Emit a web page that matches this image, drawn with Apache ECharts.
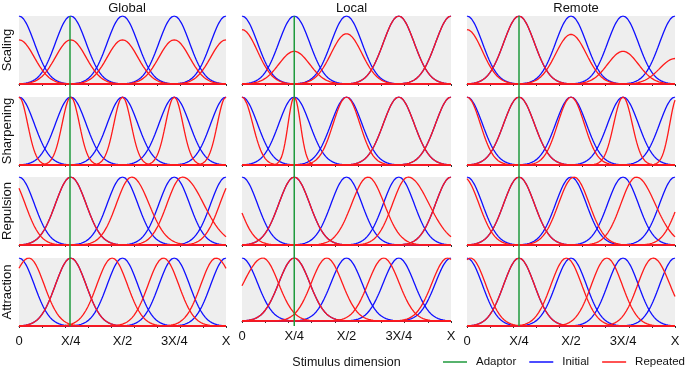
<!DOCTYPE html>
<html>
<head>
<meta charset="utf-8">
<script src="https://cdn.jsdelivr.net/npm/echarts@6/dist/echarts.min.js"></script>
<style>html,body{margin:0;padding:0;background:#fff}#main{width:685px;height:370px}</style>
</head>
<body>
<div id="main"></div>
<script>
var rowNames = ['Scaling', 'Sharpening', 'Repulsion', 'Attraction'];
var colNames = ['Global', 'Local', 'Remote'];
var tickValues = [0, 45, 90, 135, 180];
var tickLabels = ['0', 'X/4', 'X/2', '3X/4', 'X'];
var adaptor = 45;

// initial tuning curves (stimulus in degrees 0..180)
var initCentres = [0, 45, 90, 135, 180];
var initHeight = 1;
var initWidth = 13.3;

// repeated curves: [centre, height, width left, width right]
var scalingGlobal = [[0, 0.65, 13.3, 13.3], [45, 0.65, 13.3, 13.3], [90, 0.65, 13.3, 13.3], [135, 0.65, 13.3, 13.3], [180, 0.65, 13.3, 13.3]];
var scalingLocal = [[0, 0.8, 13.3, 13.3], [45, 0.48, 13.3, 13.3], [90, 0.74, 13.3, 13.3], [135, 1, 13.3, 13.3], [180, 1, 13.3, 13.3]];
var scalingRemote = [[0, 0.8, 13.3, 13.3], [45, 1, 13.3, 13.3], [90, 0.73, 13.3, 13.3], [135, 0.48, 13.3, 13.3], [180, 0.375, 13.3, 13.3]];
var sharpGlobal = [[0, 1, 7.5, 7.5], [45, 1, 7.5, 7.5], [90, 1, 7.5, 7.5], [135, 1, 7.5, 7.5], [180, 1, 7.5, 7.5]];
var sharpLocal = [[0, 1, 9.2, 9.2], [45, 1, 5.3, 5.3], [90, 1, 11.5, 11.5], [135, 1, 13.3, 13.3], [180, 1, 13.3, 13.3]];
var sharpRemote = [[0, 1, 11.5, 11.5], [45, 1, 13.3, 13.3], [90, 1, 11.5, 11.5], [135, 1, 8, 8], [182, 1, 6.5, 6.5]];
var repGlobal = [[-8, 1, 13.3, 13.3], [45, 1, 13.3, 13.3], [98, 1, 13.3, 15], [142, 1, 13.3, 18.5], [188, 1, 13.3, 13.3]];
var repLocal = [[-16.3, 1, 13.3, 13.3], [45, 1, 13.3, 13.3], [108.5, 1, 14, 14], [143, 1, 13.3, 18], [180, 1, 13.3, 13.3]];
var repRemote = [[-3, 1, 13.3, 13.3], [45, 1, 13.3, 13.3], [92.5, 1, 13.3, 13.3], [146.5, 1, 13.3, 16.3], [196, 1, 13.3, 13.3]];
var attGlobal = [[8.6, 1, 15, 13.3], [45, 1, 13.3, 13.3], [81, 1, 13.3, 13.3], [125.6, 1, 13.3, 13.3], [171.4, 1, 13.3, 15]];
var attLocal = [[18, 1, 16.7, 13.3], [45, 1, 13.3, 13.3], [73, 1, 13.3, 13.3], [122, 1, 13.3, 13.3], [177, 1, 13.3, 13.3]];
var attRemote = [[3, 1, 13.3, 13.3], [45, 1, 13.3, 13.3], [86, 1, 13.3, 13.3], [121, 1, 13.3, 13.3], [161, 1, 13.3, 14.7]];

var panels = [
    [scalingGlobal, scalingLocal, scalingRemote],
    [sharpGlobal, sharpLocal, sharpRemote],
    [repGlobal, repLocal, repRemote],
    [attGlobal, attLocal, attRemote]
];

var colLeft = [18, 242, 467];
var colWidth = [208, 209, 208];
var rowTop = [16, 97, 177, 258];
var rowHeight = 68;

var BLUE = '#1010ff';
var RED = '#ff1a1a';
var GREEN = '#1f9a3c';
var FONT = 'Liberation Sans, Arial, Helvetica, sans-serif';

function tuning(c, h, wl, wr) {
    var pts = [];
    for (var x = 0; x <= 180; x += 1) {
        var w = x < c ? wl : wr;
        pts.push([x, h * Math.exp(-(x - c) * (x - c) / (2 * w * w))]);
    }
    return pts;
}

var myChart = echarts.init(document.getElementById('main'), null, {renderer: 'canvas'});

var grid = [], xAxis = [], yAxis = [], series = [], title = [];

for (var r = 0; r < 4; r++) {
    for (var c = 0; c < 3; c++) {
        var gi = r * 3 + c;
        grid.push({
            left: colLeft[c], top: rowTop[r], width: colWidth[c], height: rowHeight,
            show: true, backgroundColor: '#eeeeee', borderWidth: 0
        });
        // tick axis
        xAxis.push({
            gridIndex: gi, type: 'value', position: 'bottom', min: 0, max: 180, interval: 20,
            axisLine: {show: true, lineStyle: {color: '#333', width: 1}},
            axisTick: {show: true, length: 2, lineStyle: {color: '#333'}},
            axisLabel: {show: false}, splitLine: {show: false}
        });
        // label axis
        xAxis.push({
            gridIndex: gi, type: 'value', position: 'bottom', min: 0, max: 180, interval: 45,
            axisLine: {show: false}, axisTick: {show: false},
            axisLabel: {
                show: r === 3, margin: 9, color: '#111', fontSize: 13, fontFamily: FONT,
                formatter: function (v) { return tickLabels[tickValues.indexOf(v)]; }
            },
            splitLine: {show: false},
            name: (r === 3 && c === 1) ? 'Stimulus dimension' : '',
            nameLocation: 'middle', nameGap: 35,
            nameTextStyle: {color: '#111', fontSize: 12.5, fontFamily: FONT}
        });
        yAxis.push({
            gridIndex: gi, type: 'value', min: 0, max: 1,
            axisLine: {show: false}, axisTick: {show: false}, axisLabel: {show: false}, splitLine: {show: false},
            name: c === 0 ? rowNames[r] : '', nameLocation: 'middle', nameGap: 5, nameRotate: 90,
            nameTextStyle: {color: '#111', fontSize: 13, fontFamily: FONT}
        });
        for (var k = 0; k < initCentres.length; k++) {
            series.push({
                name: 'Initial', type: 'line', xAxisIndex: gi * 2, yAxisIndex: gi,
                data: tuning(initCentres[k], initHeight, initWidth, initWidth),
                showSymbol: false, symbol: 'none', silent: true, z: 2,
                itemStyle: {color: BLUE}, lineStyle: {color: BLUE, width: 1.3}
            });
        }
        var rep = panels[r][c];
        for (var k = 0; k < rep.length; k++) {
            series.push({
                name: 'Repeated', type: 'line', xAxisIndex: gi * 2, yAxisIndex: gi,
                data: tuning(rep[k][0], rep[k][1], rep[k][2], rep[k][3]),
                showSymbol: false, symbol: 'none', silent: true, z: 3,
                itemStyle: {color: RED}, lineStyle: {color: RED, width: 1.3}
            });
        }
    }
}

// one tall grid per column for the adaptor line
for (var c = 0; c < 3; c++) {
    grid.push({left: colLeft[c], top: rowTop[0], width: colWidth[c], height: rowTop[3] + rowHeight - rowTop[0]});
    xAxis.push({gridIndex: 12 + c, type: 'value', min: 0, max: 180, show: false});
    yAxis.push({gridIndex: 12 + c, type: 'value', min: 0, max: 1, show: false});
    series.push({
        name: 'Adaptor', type: 'line', xAxisIndex: 24 + c, yAxisIndex: 12 + c,
        data: [[adaptor, 0], [adaptor, 1]],
        showSymbol: false, symbol: 'none', silent: true, z: 5,
        itemStyle: {color: GREEN}, lineStyle: {color: GREEN, width: 1.5}
    });
    title.push({
        text: colNames[c], left: colLeft[c] + colWidth[c] / 2, top: -3, textAlign: 'center',
        textStyle: {color: '#111', fontSize: 13, fontWeight: 'normal', fontFamily: FONT}
    });
}

var option = {
    animation: false,
    backgroundColor: '#fff',
    title: title,
    legend: {
        data: ['Adaptor', 'Initial', 'Repeated'],
        left: 443, top: 356, width: 260, icon: 'rect', itemWidth: 24, itemHeight: 1.5, itemGap: 13,
        padding: 0,
        textStyle: {color: '#111', fontSize: 11.5, fontFamily: FONT, padding: [0, 0, 0, 4]}
    },
    grid: grid,
    xAxis: xAxis,
    yAxis: yAxis,
    series: series
};

myChart.setOption(option);
</script>
</body>
</html>
